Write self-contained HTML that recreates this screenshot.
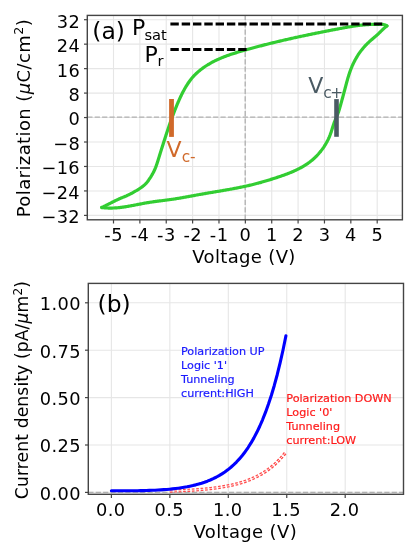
<!DOCTYPE html><html><head><meta charset="utf-8"><style>html,body{margin:0;padding:0;background:#fff;}svg{display:block;}text{font-family:"DejaVu Sans","Liberation Sans",sans-serif;}</style></head><body>
<svg width="414" height="550" viewBox="0 0 414 550">
<rect width="414" height="550" fill="#fff"/>
<g stroke="#e6e6e6" stroke-width="1.1"><line x1="113.50" y1="15.40" x2="113.50" y2="219.80"/><line x1="139.87" y1="15.40" x2="139.87" y2="219.80"/><line x1="166.24" y1="15.40" x2="166.24" y2="219.80"/><line x1="192.61" y1="15.40" x2="192.61" y2="219.80"/><line x1="218.98" y1="15.40" x2="218.98" y2="219.80"/><line x1="245.35" y1="15.40" x2="245.35" y2="219.80"/><line x1="271.72" y1="15.40" x2="271.72" y2="219.80"/><line x1="298.09" y1="15.40" x2="298.09" y2="219.80"/><line x1="324.46" y1="15.40" x2="324.46" y2="219.80"/><line x1="350.83" y1="15.40" x2="350.83" y2="219.80"/><line x1="377.20" y1="15.40" x2="377.20" y2="219.80"/><line x1="87.30" y1="215.40" x2="402.40" y2="215.40"/><line x1="87.30" y1="190.94" x2="402.40" y2="190.94"/><line x1="87.30" y1="166.47" x2="402.40" y2="166.47"/><line x1="87.30" y1="142.01" x2="402.40" y2="142.01"/><line x1="87.30" y1="117.55" x2="402.40" y2="117.55"/><line x1="87.30" y1="93.09" x2="402.40" y2="93.09"/><line x1="87.30" y1="68.63" x2="402.40" y2="68.63"/><line x1="87.30" y1="44.16" x2="402.40" y2="44.16"/><line x1="87.30" y1="19.70" x2="402.40" y2="19.70"/></g>
<g stroke="#b0b0b0" stroke-width="1.3" stroke-dasharray="5.2,2.2">
<line x1="87.30" y1="117.2" x2="402.40" y2="117.2"/>
<line x1="245.2" y1="219.80" x2="245.2" y2="15.40"/>
</g>
<path d="M386.92,25.92 L386.12,25.42 L385.29,25.02 L384.43,24.73 L383.56,24.52 L382.66,24.38 L381.74,24.30 L380.82,24.27 L379.88,24.27 L378.94,24.29 L378.00,24.32 L377.06,24.34 L376.12,24.36 L375.18,24.38 L374.24,24.39 L373.30,24.41 L372.36,24.43 L371.42,24.45 L370.49,24.48 L369.55,24.51 L368.62,24.55 L367.69,24.60 L366.75,24.66 L365.82,24.73 L364.89,24.80 L363.96,24.88 L363.03,24.97 L362.11,25.06 L361.18,25.16 L360.25,25.26 L359.33,25.37 L358.40,25.49 L357.48,25.61 L356.56,25.73 L355.63,25.86 L354.71,26.00 L353.79,26.14 L352.87,26.28 L351.95,26.42 L351.03,26.57 L350.11,26.73 L349.19,26.88 L348.27,27.04 L347.35,27.20 L346.43,27.37 L345.51,27.53 L344.59,27.70 L343.68,27.87 L342.76,28.04 L341.84,28.21 L340.92,28.38 L340.01,28.55 L339.09,28.72 L338.17,28.90 L337.26,29.07 L336.34,29.24 L335.43,29.42 L334.51,29.59 L333.59,29.77 L332.68,29.94 L331.76,30.12 L330.85,30.30 L329.93,30.47 L329.01,30.65 L328.10,30.83 L327.18,31.01 L326.27,31.19 L325.35,31.37 L324.44,31.54 L323.52,31.73 L322.61,31.91 L321.70,32.09 L320.78,32.27 L319.87,32.45 L318.95,32.63 L318.04,32.82 L317.13,33.00 L316.21,33.19 L315.30,33.37 L314.38,33.56 L313.47,33.74 L312.56,33.93 L311.65,34.12 L310.73,34.31 L309.82,34.49 L308.91,34.68 L308.00,34.87 L307.08,35.06 L306.17,35.26 L305.26,35.45 L304.35,35.64 L303.44,35.83 L302.52,36.03 L301.61,36.22 L300.70,36.42 L299.79,36.61 L298.88,36.81 L297.97,37.01 L297.06,37.21 L296.15,37.41 L295.24,37.61 L294.33,37.81 L293.42,38.01 L292.51,38.21 L291.60,38.41 L290.69,38.62 L289.78,38.82 L288.87,39.03 L287.96,39.23 L287.05,39.44 L286.14,39.65 L285.24,39.85 L284.33,40.06 L283.42,40.27 L282.51,40.49 L281.60,40.70 L280.70,40.91 L279.79,41.12 L278.88,41.34 L277.97,41.55 L277.07,41.77 L276.16,41.99 L275.25,42.21 L274.35,42.43 L273.44,42.65 L272.54,42.87 L271.63,43.09 L270.72,43.31 L269.82,43.54 L268.91,43.76 L268.01,43.99 L267.10,44.21 L266.20,44.44 L265.29,44.67 L264.39,44.90 L263.49,45.13 L262.58,45.36 L261.68,45.60 L260.77,45.83 L259.87,46.06 L258.97,46.30 L258.06,46.54 L257.16,46.78 L256.26,47.02 L255.36,47.26 L254.45,47.50 L253.55,47.74 L252.65,47.99 L251.75,48.23 L250.85,48.48 L249.95,48.72 L249.05,48.97 L248.14,49.22 L247.24,49.47 L246.34,49.72 L245.44,49.98 L244.54,50.23 L243.64,50.49 L242.74,50.74 L241.84,51.00 L240.95,51.26 L240.05,51.53 L239.15,51.79 L238.26,52.06 L237.36,52.33 L236.47,52.60 L235.57,52.88 L234.68,53.16 L233.79,53.44 L232.90,53.73 L232.02,54.02 L231.13,54.31 L230.25,54.61 L229.37,54.91 L228.49,55.22 L227.61,55.53 L226.73,55.85 L225.86,56.17 L224.99,56.50 L224.12,56.84 L223.26,57.18 L222.39,57.52 L221.54,57.87 L220.68,58.23 L219.82,58.60 L218.97,58.97 L218.13,59.35 L217.28,59.73 L216.44,60.13 L215.60,60.53 L214.77,60.93 L213.94,61.35 L213.11,61.77 L212.29,62.21 L211.47,62.65 L210.66,63.10 L209.85,63.56 L209.05,64.03 L208.25,64.50 L207.45,64.99 L206.66,65.49 L205.87,65.99 L205.09,66.51 L204.31,67.04 L203.54,67.57 L202.78,68.12 L202.03,68.68 L201.28,69.24 L200.54,69.82 L199.80,70.41 L199.08,71.01 L198.36,71.61 L197.66,72.23 L196.96,72.86 L196.28,73.50 L195.60,74.15 L194.94,74.81 L194.29,75.48 L193.65,76.16 L193.02,76.85 L192.40,77.55 L191.80,78.27 L191.21,78.99 L190.64,79.72 L190.07,80.46 L189.52,81.21 L188.98,81.97 L188.44,82.74 L187.92,83.51 L187.41,84.29 L186.91,85.08 L186.42,85.87 L185.93,86.66 L185.46,87.46 L184.99,88.27 L184.53,89.08 L184.08,89.90 L183.63,90.71 L183.19,91.54 L182.76,92.36 L182.33,93.19 L181.92,94.02 L181.50,94.86 L181.10,95.70 L180.69,96.54 L180.30,97.39 L179.91,98.23 L179.52,99.08 L179.14,99.93 L178.76,100.79 L178.38,101.64 L178.01,102.50 L177.65,103.36 L177.28,104.22 L176.92,105.08 L176.57,105.94 L176.21,106.80 L175.86,107.66 L175.51,108.53 L175.17,109.40 L174.82,110.26 L174.48,111.13 L174.15,112.00 L173.81,112.87 L173.48,113.74 L173.15,114.61 L172.82,115.49 L172.50,116.36 L172.17,117.23 L171.85,118.11 L171.53,118.99 L171.22,119.86 L170.90,120.74 L170.59,121.62 L170.28,122.50 L169.97,123.38 L169.67,124.26 L169.36,125.14 L169.06,126.02 L168.76,126.90 L168.45,127.79 L168.16,128.67 L167.86,129.55 L167.56,130.44 L167.27,131.32 L166.97,132.21 L166.68,133.09 L166.39,133.98 L166.10,134.87 L165.81,135.75 L165.52,136.64 L165.23,137.53 L164.94,138.41 L164.66,139.30 L164.37,140.19 L164.08,141.08 L163.80,141.97 L163.51,142.85 L163.23,143.74 L162.94,144.63 L162.66,145.52 L162.38,146.41 L162.10,147.30 L161.82,148.19 L161.53,149.08 L161.25,149.97 L160.98,150.86 L160.70,151.75 L160.42,152.64 L160.14,153.53 L159.86,154.42 L159.59,155.31 L159.31,156.20 L159.04,157.09 L158.77,157.98 L158.49,158.87 L158.22,159.76 L157.94,160.65 L157.66,161.54 L157.38,162.43 L157.09,163.32 L156.80,164.20 L156.49,165.08 L156.18,165.95 L155.85,166.82 L155.52,167.69 L155.17,168.55 L154.80,169.41 L154.42,170.26 L154.02,171.11 L153.61,171.94 L153.18,172.78 L152.73,173.60 L152.28,174.42 L151.80,175.23 L151.32,176.03 L150.83,176.83 L150.32,177.62 L149.81,178.40 L149.28,179.18 L148.75,179.95 L148.20,180.70 L147.65,181.45 L147.07,182.18 L146.47,182.88 L145.85,183.57 L145.20,184.22 L144.53,184.86 L143.84,185.47 L143.13,186.06 L142.40,186.64 L141.65,187.19 L140.89,187.73 L140.12,188.26 L139.33,188.78 L138.54,189.29 L137.75,189.78 L136.95,190.27 L136.15,190.76 L135.34,191.24 L134.53,191.71 L133.72,192.17 L132.91,192.63 L132.09,193.08 L131.27,193.52 L130.44,193.95 L129.61,194.37 L128.78,194.78 L127.94,195.18 L127.09,195.57 L126.24,195.95 L125.38,196.31 L124.52,196.67 L123.66,197.03 L122.80,197.38 L121.94,197.73 L121.08,198.09 L120.22,198.45 L119.36,198.83 L118.51,199.21 L117.66,199.59 L116.82,199.99 L115.98,200.39 L115.14,200.79 L114.30,201.21 L113.46,201.62 L112.63,202.04 L111.80,202.46 L110.97,202.89 L110.14,203.31 L109.31,203.74 L108.48,204.17 L107.64,204.59 L106.81,205.02 L105.98,205.44 L105.15,205.86 L104.32,206.28 L103.48,206.69 L102.64,207.10 L101.80,207.50" fill="none" stroke="#32cd32" stroke-width="3.2" stroke-linejoin="round" stroke-linecap="round"/>
<path d="M101.78,207.47 L102.73,207.60 L103.68,207.71 L104.63,207.80 L105.57,207.88 L106.52,207.94 L107.46,207.99 L108.40,208.03 L109.34,208.05 L110.28,208.06 L111.22,208.06 L112.16,208.04 L113.09,208.02 L114.03,207.98 L114.96,207.93 L115.89,207.87 L116.83,207.80 L117.76,207.72 L118.69,207.63 L119.62,207.54 L120.55,207.43 L121.48,207.32 L122.41,207.20 L123.34,207.07 L124.26,206.94 L125.19,206.80 L126.12,206.65 L127.04,206.50 L127.97,206.34 L128.89,206.18 L129.82,206.02 L130.74,205.85 L131.67,205.68 L132.59,205.51 L133.52,205.33 L134.44,205.15 L135.37,204.97 L136.29,204.79 L137.22,204.61 L138.14,204.43 L139.07,204.25 L139.99,204.07 L140.92,203.89 L141.84,203.71 L142.77,203.54 L143.70,203.36 L144.62,203.19 L145.55,203.02 L146.48,202.86 L147.41,202.70 L148.33,202.55 L149.26,202.40 L150.19,202.25 L151.12,202.11 L152.06,201.97 L152.99,201.83 L153.92,201.70 L154.85,201.57 L155.78,201.45 L156.71,201.32 L157.65,201.20 L158.58,201.08 L159.51,200.96 L160.45,200.84 L161.38,200.72 L162.31,200.61 L163.24,200.49 L164.18,200.37 L165.11,200.25 L166.04,200.13 L166.97,200.01 L167.90,199.89 L168.83,199.77 L169.76,199.64 L170.69,199.51 L171.62,199.38 L172.55,199.25 L173.48,199.11 L174.41,198.97 L175.34,198.83 L176.26,198.68 L177.19,198.53 L178.11,198.38 L179.04,198.22 L179.96,198.07 L180.89,197.91 L181.81,197.75 L182.74,197.59 L183.66,197.42 L184.58,197.26 L185.51,197.09 L186.43,196.92 L187.35,196.75 L188.28,196.58 L189.20,196.41 L190.12,196.24 L191.05,196.07 L191.97,195.90 L192.89,195.73 L193.82,195.56 L194.74,195.39 L195.66,195.22 L196.59,195.05 L197.51,194.88 L198.44,194.71 L199.36,194.54 L200.29,194.38 L201.21,194.21 L202.14,194.05 L203.07,193.89 L203.99,193.72 L204.92,193.56 L205.85,193.40 L206.78,193.25 L207.70,193.09 L208.63,192.93 L209.56,192.77 L210.49,192.62 L211.42,192.46 L212.35,192.31 L213.28,192.15 L214.21,191.99 L215.14,191.84 L216.06,191.68 L216.99,191.53 L217.92,191.37 L218.85,191.22 L219.78,191.06 L220.71,190.90 L221.64,190.75 L222.57,190.59 L223.50,190.43 L224.42,190.27 L225.35,190.11 L226.28,189.95 L227.21,189.79 L228.13,189.62 L229.06,189.46 L229.99,189.29 L230.91,189.12 L231.84,188.96 L232.76,188.79 L233.69,188.61 L234.61,188.44 L235.53,188.26 L236.46,188.09 L237.38,187.91 L238.30,187.73 L239.22,187.54 L240.14,187.36 L241.06,187.17 L241.98,186.98 L242.90,186.79 L243.82,186.59 L244.73,186.40 L245.65,186.20 L246.56,185.99 L247.48,185.79 L248.39,185.58 L249.30,185.37 L250.22,185.15 L251.13,184.94 L252.04,184.71 L252.94,184.49 L253.85,184.26 L254.76,184.03 L255.66,183.80 L256.57,183.56 L257.47,183.32 L258.38,183.08 L259.28,182.83 L260.18,182.59 L261.09,182.34 L261.99,182.08 L262.89,181.82 L263.79,181.56 L264.69,181.30 L265.59,181.04 L266.49,180.77 L267.38,180.50 L268.28,180.23 L269.18,179.95 L270.08,179.67 L270.97,179.39 L271.87,179.11 L272.77,178.82 L273.67,178.54 L274.56,178.25 L275.46,177.95 L276.36,177.66 L277.25,177.36 L278.15,177.06 L279.05,176.76 L279.94,176.46 L280.84,176.15 L281.73,175.84 L282.63,175.53 L283.52,175.21 L284.41,174.89 L285.30,174.56 L286.19,174.23 L287.07,173.90 L287.96,173.56 L288.84,173.21 L289.71,172.86 L290.59,172.51 L291.46,172.15 L292.33,171.78 L293.20,171.41 L294.06,171.03 L294.91,170.64 L295.77,170.24 L296.62,169.84 L297.46,169.43 L298.30,169.02 L299.14,168.59 L299.97,168.16 L300.79,167.72 L301.61,167.27 L302.42,166.81 L303.23,166.34 L304.03,165.86 L304.82,165.38 L305.61,164.88 L306.39,164.37 L307.16,163.85 L307.93,163.33 L308.69,162.79 L309.44,162.24 L310.18,161.67 L310.92,161.10 L311.65,160.52 L312.36,159.92 L313.07,159.31 L313.77,158.69 L314.47,158.05 L315.15,157.41 L315.82,156.75 L316.49,156.08 L317.14,155.41 L317.78,154.72 L318.42,154.02 L319.04,153.31 L319.65,152.59 L320.25,151.86 L320.85,151.12 L321.43,150.37 L322.00,149.62 L322.56,148.85 L323.10,148.08 L323.64,147.30 L324.16,146.51 L324.67,145.71 L325.17,144.91 L325.66,144.10 L326.14,143.28 L326.60,142.46 L327.05,141.62 L327.48,140.79 L327.91,139.95 L328.32,139.10 L328.71,138.24 L329.10,137.39 L329.47,136.52 L329.82,135.66 L330.17,134.78 L330.49,133.91 L330.81,133.03 L331.11,132.15 L331.40,131.26 L331.68,130.37 L331.96,129.48 L332.24,128.60 L332.51,127.70 L332.79,126.81 L333.07,125.93 L333.36,125.04 L333.66,124.15 L333.97,123.27 L334.29,122.39 L334.62,121.51 L334.98,120.64 L335.34,119.76 L335.71,118.89 L336.08,118.03 L336.45,117.16 L336.82,116.29 L337.19,115.42 L337.55,114.55 L337.89,113.67 L338.22,112.79 L338.54,111.90 L338.83,111.01 L339.12,110.12 L339.39,109.22 L339.65,108.32 L339.91,107.42 L340.16,106.52 L340.41,105.61 L340.66,104.71 L340.91,103.80 L341.16,102.90 L341.41,102.00 L341.66,101.09 L341.91,100.19 L342.16,99.28 L342.41,98.38 L342.65,97.47 L342.90,96.57 L343.15,95.66 L343.39,94.75 L343.63,93.85 L343.88,92.94 L344.12,92.03 L344.37,91.12 L344.61,90.22 L344.85,89.31 L345.09,88.40 L345.34,87.49 L345.58,86.58 L345.82,85.67 L346.06,84.76 L346.30,83.85 L346.54,82.94 L346.79,82.03 L347.04,81.12 L347.29,80.22 L347.54,79.31 L347.80,78.40 L348.07,77.50 L348.34,76.60 L348.62,75.70 L348.90,74.80 L349.19,73.91 L349.49,73.01 L349.80,72.12 L350.11,71.24 L350.44,70.35 L350.77,69.47 L351.12,68.60 L351.47,67.73 L351.83,66.86 L352.20,65.99 L352.58,65.14 L352.97,64.28 L353.37,63.43 L353.78,62.59 L354.20,61.75 L354.63,60.91 L355.07,60.08 L355.52,59.26 L355.98,58.44 L356.45,57.63 L356.93,56.83 L357.42,56.03 L357.91,55.23 L358.42,54.45 L358.94,53.67 L359.47,52.90 L360.01,52.14 L360.56,51.38 L361.12,50.63 L361.70,49.89 L362.28,49.16 L362.87,48.44 L363.47,47.72 L364.09,47.02 L364.71,46.32 L365.35,45.63 L366.00,44.95 L366.66,44.28 L367.33,43.62 L368.00,42.97 L368.69,42.33 L369.39,41.69 L370.09,41.06 L370.79,40.43 L371.50,39.80 L372.22,39.18 L372.93,38.56 L373.65,37.95 L374.37,37.33 L375.08,36.71 L375.79,36.09 L376.50,35.46 L377.20,34.84 L377.90,34.20 L378.59,33.56 L379.27,32.92 L379.94,32.27 L380.60,31.61 L381.26,30.95 L381.93,30.29 L382.59,29.64 L383.27,28.99 L383.95,28.35 L384.65,27.73 L385.37,27.12 L386.11,26.54 L386.87,25.98" fill="none" stroke="#32cd32" stroke-width="3.2" stroke-linejoin="round" stroke-linecap="round"/>
<g stroke="#000" stroke-width="3" stroke-dasharray="8.4,2.9">
<line x1="170.4" y1="24.1" x2="382.4" y2="24.1"/>
<line x1="170.4" y1="49.6" x2="246.8" y2="49.6"/>
</g>
<rect x="169.1" y="99" width="4.8" height="37.9" fill="#d0692a"/>
<rect x="334.2" y="99.1" width="4.6" height="37.7" fill="#4b5b64"/>
<rect x="87.30" y="15.40" width="315.10" height="204.40" fill="none" stroke="#444" stroke-width="1.4"/>
<g stroke="#444" stroke-width="1.2"><line x1="84.0" y1="215.40" x2="87.30" y2="215.40"/><line x1="84.0" y1="190.94" x2="87.30" y2="190.94"/><line x1="84.0" y1="166.47" x2="87.30" y2="166.47"/><line x1="84.0" y1="142.01" x2="87.30" y2="142.01"/><line x1="84.0" y1="117.55" x2="87.30" y2="117.55"/><line x1="84.0" y1="93.09" x2="87.30" y2="93.09"/><line x1="84.0" y1="68.63" x2="87.30" y2="68.63"/><line x1="84.0" y1="44.16" x2="87.30" y2="44.16"/><line x1="84.0" y1="19.70" x2="87.30" y2="19.70"/><line x1="113.50" y1="219.80" x2="113.50" y2="223.5"/><line x1="139.87" y1="219.80" x2="139.87" y2="223.5"/><line x1="166.24" y1="219.80" x2="166.24" y2="223.5"/><line x1="192.61" y1="219.80" x2="192.61" y2="223.5"/><line x1="218.98" y1="219.80" x2="218.98" y2="223.5"/><line x1="245.35" y1="219.80" x2="245.35" y2="223.5"/><line x1="271.72" y1="219.80" x2="271.72" y2="223.5"/><line x1="298.09" y1="219.80" x2="298.09" y2="223.5"/><line x1="324.46" y1="219.80" x2="324.46" y2="223.5"/><line x1="350.83" y1="219.80" x2="350.83" y2="223.5"/><line x1="377.20" y1="219.80" x2="377.20" y2="223.5"/></g>
<g font-size="17.80" fill="#000"><text x="80.0" y="223.30" text-anchor="end" letter-spacing="0.3">−32</text><text x="80.0" y="198.84" text-anchor="end" letter-spacing="0.3">−24</text><text x="80.0" y="174.37" text-anchor="end" letter-spacing="0.3">−16</text><text x="80.0" y="149.91" text-anchor="end" letter-spacing="0.3">−8</text><text x="80.0" y="125.45" text-anchor="end" letter-spacing="0.3">0</text><text x="80.0" y="100.99" text-anchor="end" letter-spacing="0.3">8</text><text x="80.0" y="76.53" text-anchor="end" letter-spacing="0.3">16</text><text x="80.0" y="52.06" text-anchor="end" letter-spacing="0.3">24</text><text x="80.0" y="27.60" text-anchor="end" letter-spacing="0.3">32</text><text x="113.60" y="241.1" text-anchor="middle" letter-spacing="0.4">-5</text><text x="139.97" y="241.1" text-anchor="middle" letter-spacing="0.4">-4</text><text x="166.34" y="241.1" text-anchor="middle" letter-spacing="0.4">-3</text><text x="192.71" y="241.1" text-anchor="middle" letter-spacing="0.4">-2</text><text x="219.08" y="241.1" text-anchor="middle" letter-spacing="0.4">-1</text><text x="245.45" y="241.1" text-anchor="middle" letter-spacing="0.4">0</text><text x="271.82" y="241.1" text-anchor="middle" letter-spacing="0.4">1</text><text x="298.19" y="241.1" text-anchor="middle" letter-spacing="0.4">2</text><text x="324.56" y="241.1" text-anchor="middle" letter-spacing="0.4">3</text><text x="350.93" y="241.1" text-anchor="middle" letter-spacing="0.4">4</text><text x="377.30" y="241.1" text-anchor="middle" letter-spacing="0.4">5</text></g>
<text x="244" y="262.6" text-anchor="middle" font-size="18" letter-spacing="0.35">Voltage (V)</text>
<text transform="translate(29.6,118.1) rotate(-90)" text-anchor="middle" font-size="18" letter-spacing="0.4">Polarization (<tspan font-style="italic">μ</tspan>C/cm<tspan font-size="12.6" dy="-7">2</tspan><tspan dy="7">)</tspan></text>
<text x="92.3" y="38.6" font-size="23.4">(a)</text>
<text x="132.1" y="34.8" font-size="22">P<tspan font-size="14.7" dx="-0.9" dy="5.2">sat</tspan></text>
<text x="144.6" y="61.8" font-size="22">P<tspan font-size="14.7" dx="-0.5" dy="4.2">r</tspan></text>
<text x="166.6" y="157.1" font-size="22" fill="#d0692a">V<tspan font-size="15.4" dy="4.7">c-</tspan></text>
<text x="308.2" y="92.8" font-size="22" fill="#4a5a63">V<tspan font-size="15.4" dy="5.1">c</tspan><tspan font-size="15.4" dx="-1.6">+</tspan></text>
<g stroke="#e6e6e6" stroke-width="1.1"><line x1="111.40" y1="283.40" x2="111.40" y2="494.30"/><line x1="169.85" y1="283.40" x2="169.85" y2="494.30"/><line x1="228.30" y1="283.40" x2="228.30" y2="494.30"/><line x1="286.75" y1="283.40" x2="286.75" y2="494.30"/><line x1="345.20" y1="283.40" x2="345.20" y2="494.30"/><line x1="88.30" y1="492.40" x2="403.50" y2="492.40"/><line x1="88.30" y1="445.00" x2="403.50" y2="445.00"/><line x1="88.30" y1="397.60" x2="403.50" y2="397.60"/><line x1="88.30" y1="350.20" x2="403.50" y2="350.20"/><line x1="88.30" y1="302.80" x2="403.50" y2="302.80"/></g>
<line x1="88.30" y1="492.4" x2="403.50" y2="492.4" stroke="#b0b0b0" stroke-width="1.3" stroke-dasharray="5.2,2.2"/>
<path d="M169.85,491.08 L172.75,490.99 L175.65,490.89 L178.56,490.78 L181.46,490.66 L184.36,490.53 L187.26,490.39 L190.16,490.23 L193.07,490.05 L195.97,489.86 L198.87,489.64 L201.77,489.41 L204.67,489.15 L207.58,488.87 L210.48,488.56 L213.38,488.22 L216.28,487.85 L219.18,487.44 L222.09,486.99 L224.99,486.49 L227.89,485.95 L230.79,485.35 L233.69,484.69 L236.60,483.97 L239.50,483.18 L242.40,482.30 L245.30,481.35 L248.21,480.29 L251.11,479.14 L254.01,477.86 L256.91,476.47 L259.81,474.93 L262.72,473.24 L265.62,471.39 L268.52,469.35 L271.42,467.11 L274.32,464.66 L277.23,461.95 L280.13,458.98 L283.03,455.72 L285.93,452.13" fill="none" stroke="#ff4a4a" stroke-width="3.3" stroke-dasharray="2.7,1.7"/>
<path d="M169.85,491.08 L172.75,490.99 L175.65,490.89 L178.56,490.78 L181.46,490.66 L184.36,490.53 L187.26,490.39 L190.16,490.23 L193.07,490.05 L195.97,489.86 L198.87,489.64 L201.77,489.41 L204.67,489.15 L207.58,488.87 L210.48,488.56 L213.38,488.22 L216.28,487.85 L219.18,487.44 L222.09,486.99 L224.99,486.49 L227.89,485.95 L230.79,485.35 L233.69,484.69 L236.60,483.97 L239.50,483.18 L242.40,482.30 L245.30,481.35 L248.21,480.29 L251.11,479.14 L254.01,477.86 L256.91,476.47 L259.81,474.93 L262.72,473.24 L265.62,471.39 L268.52,469.35 L271.42,467.11 L274.32,464.66 L277.23,461.95 L280.13,458.98 L283.03,455.72 L285.93,452.13" fill="none" stroke="#fff" stroke-width="0.9" opacity="0.9"/>
<path d="M111.40,490.70 L114.31,490.72 L117.22,490.75 L120.13,490.76 L123.04,490.77 L125.94,490.78 L128.85,490.77 L131.76,490.75 L134.67,490.73 L137.58,490.69 L140.49,490.64 L143.40,490.58 L146.31,490.51 L149.22,490.41 L152.12,490.31 L155.03,490.18 L157.94,490.03 L160.85,489.85 L163.76,489.65 L166.67,489.43 L169.58,489.17 L172.49,488.88 L175.39,488.55 L178.30,488.18 L181.21,487.77 L184.12,487.31 L187.03,486.80 L189.94,486.22 L192.85,485.58 L195.76,484.87 L198.67,484.09 L201.57,483.22 L204.48,482.25 L207.39,481.18 L210.30,480.00 L213.21,478.69 L216.12,477.25 L219.03,475.66 L221.94,473.91 L224.85,471.97 L227.75,469.84 L230.66,467.49 L233.57,464.91 L236.48,462.06 L239.39,458.93 L242.30,455.48 L245.21,451.69 L248.12,447.52 L251.03,442.93 L253.93,437.89 L256.84,432.34 L259.75,426.25 L262.66,419.55 L265.57,412.19 L268.48,404.10 L271.39,395.22 L274.30,385.45 L277.21,374.73 L280.11,362.95 L283.02,350.02 L285.93,335.81" fill="none" stroke="#0000ff" stroke-width="3.1" stroke-linecap="round" stroke-linejoin="round"/>
<rect x="88.30" y="283.40" width="315.20" height="210.90" fill="none" stroke="#444" stroke-width="1.4"/>
<g stroke="#444" stroke-width="1.2"><line x1="85.0" y1="492.40" x2="88.30" y2="492.40"/><line x1="85.0" y1="445.00" x2="88.30" y2="445.00"/><line x1="85.0" y1="397.60" x2="88.30" y2="397.60"/><line x1="85.0" y1="350.20" x2="88.30" y2="350.20"/><line x1="85.0" y1="302.80" x2="88.30" y2="302.80"/><line x1="111.40" y1="494.30" x2="111.40" y2="498"/><line x1="169.85" y1="494.30" x2="169.85" y2="498"/><line x1="228.30" y1="494.30" x2="228.30" y2="498"/><line x1="286.75" y1="494.30" x2="286.75" y2="498"/><line x1="345.20" y1="494.30" x2="345.20" y2="498"/></g>
<g font-size="17.80" fill="#000"><text x="81.05" y="499.80" text-anchor="end" letter-spacing="0.45">0.00</text><text x="81.05" y="452.40" text-anchor="end" letter-spacing="0.45">0.25</text><text x="81.05" y="405.00" text-anchor="end" letter-spacing="0.45">0.50</text><text x="81.05" y="357.60" text-anchor="end" letter-spacing="0.45">0.75</text><text x="81.05" y="310.20" text-anchor="end" letter-spacing="0.45">1.00</text><text x="110.80" y="516.4" text-anchor="middle" letter-spacing="0.45">0.0</text><text x="169.25" y="516.4" text-anchor="middle" letter-spacing="0.45">0.5</text><text x="227.70" y="516.4" text-anchor="middle" letter-spacing="0.45">1.0</text><text x="286.15" y="516.4" text-anchor="middle" letter-spacing="0.45">1.5</text><text x="344.60" y="516.4" text-anchor="middle" letter-spacing="0.45">2.0</text></g>
<text x="245.3" y="538.4" text-anchor="middle" font-size="18" letter-spacing="0.35">Voltage (V)</text>
<text transform="translate(28.2,390.1) rotate(-90)" text-anchor="middle" font-size="17.2" letter-spacing="0.1">Current density (pA/<tspan font-style="italic">μ</tspan>m<tspan font-size="12" dy="-6.7">2</tspan><tspan dy="6.7">)</tspan></text>
<text x="97.5" y="312.0" font-size="23.4">(b)</text>
<g font-size="11.2" fill="#1a1aff" stroke="#1a1aff" stroke-width="0.2">
<text x="181.0" y="354.6">Polarization UP</text>
<text x="181.0" y="368.6">Logic '1'</text>
<text x="181.0" y="382.5">Tunneling</text>
<text x="181.0" y="396.5">current:HIGH</text>
</g>
<g font-size="11.2" fill="#ff1a1a" stroke="#ff1a1a" stroke-width="0.2">
<text x="286.3" y="401.7">Polarization DOWN</text>
<text x="286.3" y="415.6">Logic '0'</text>
<text x="286.3" y="429.6">Tunneling</text>
<text x="286.3" y="443.5">current:LOW</text>
</g>
</svg></body></html>
